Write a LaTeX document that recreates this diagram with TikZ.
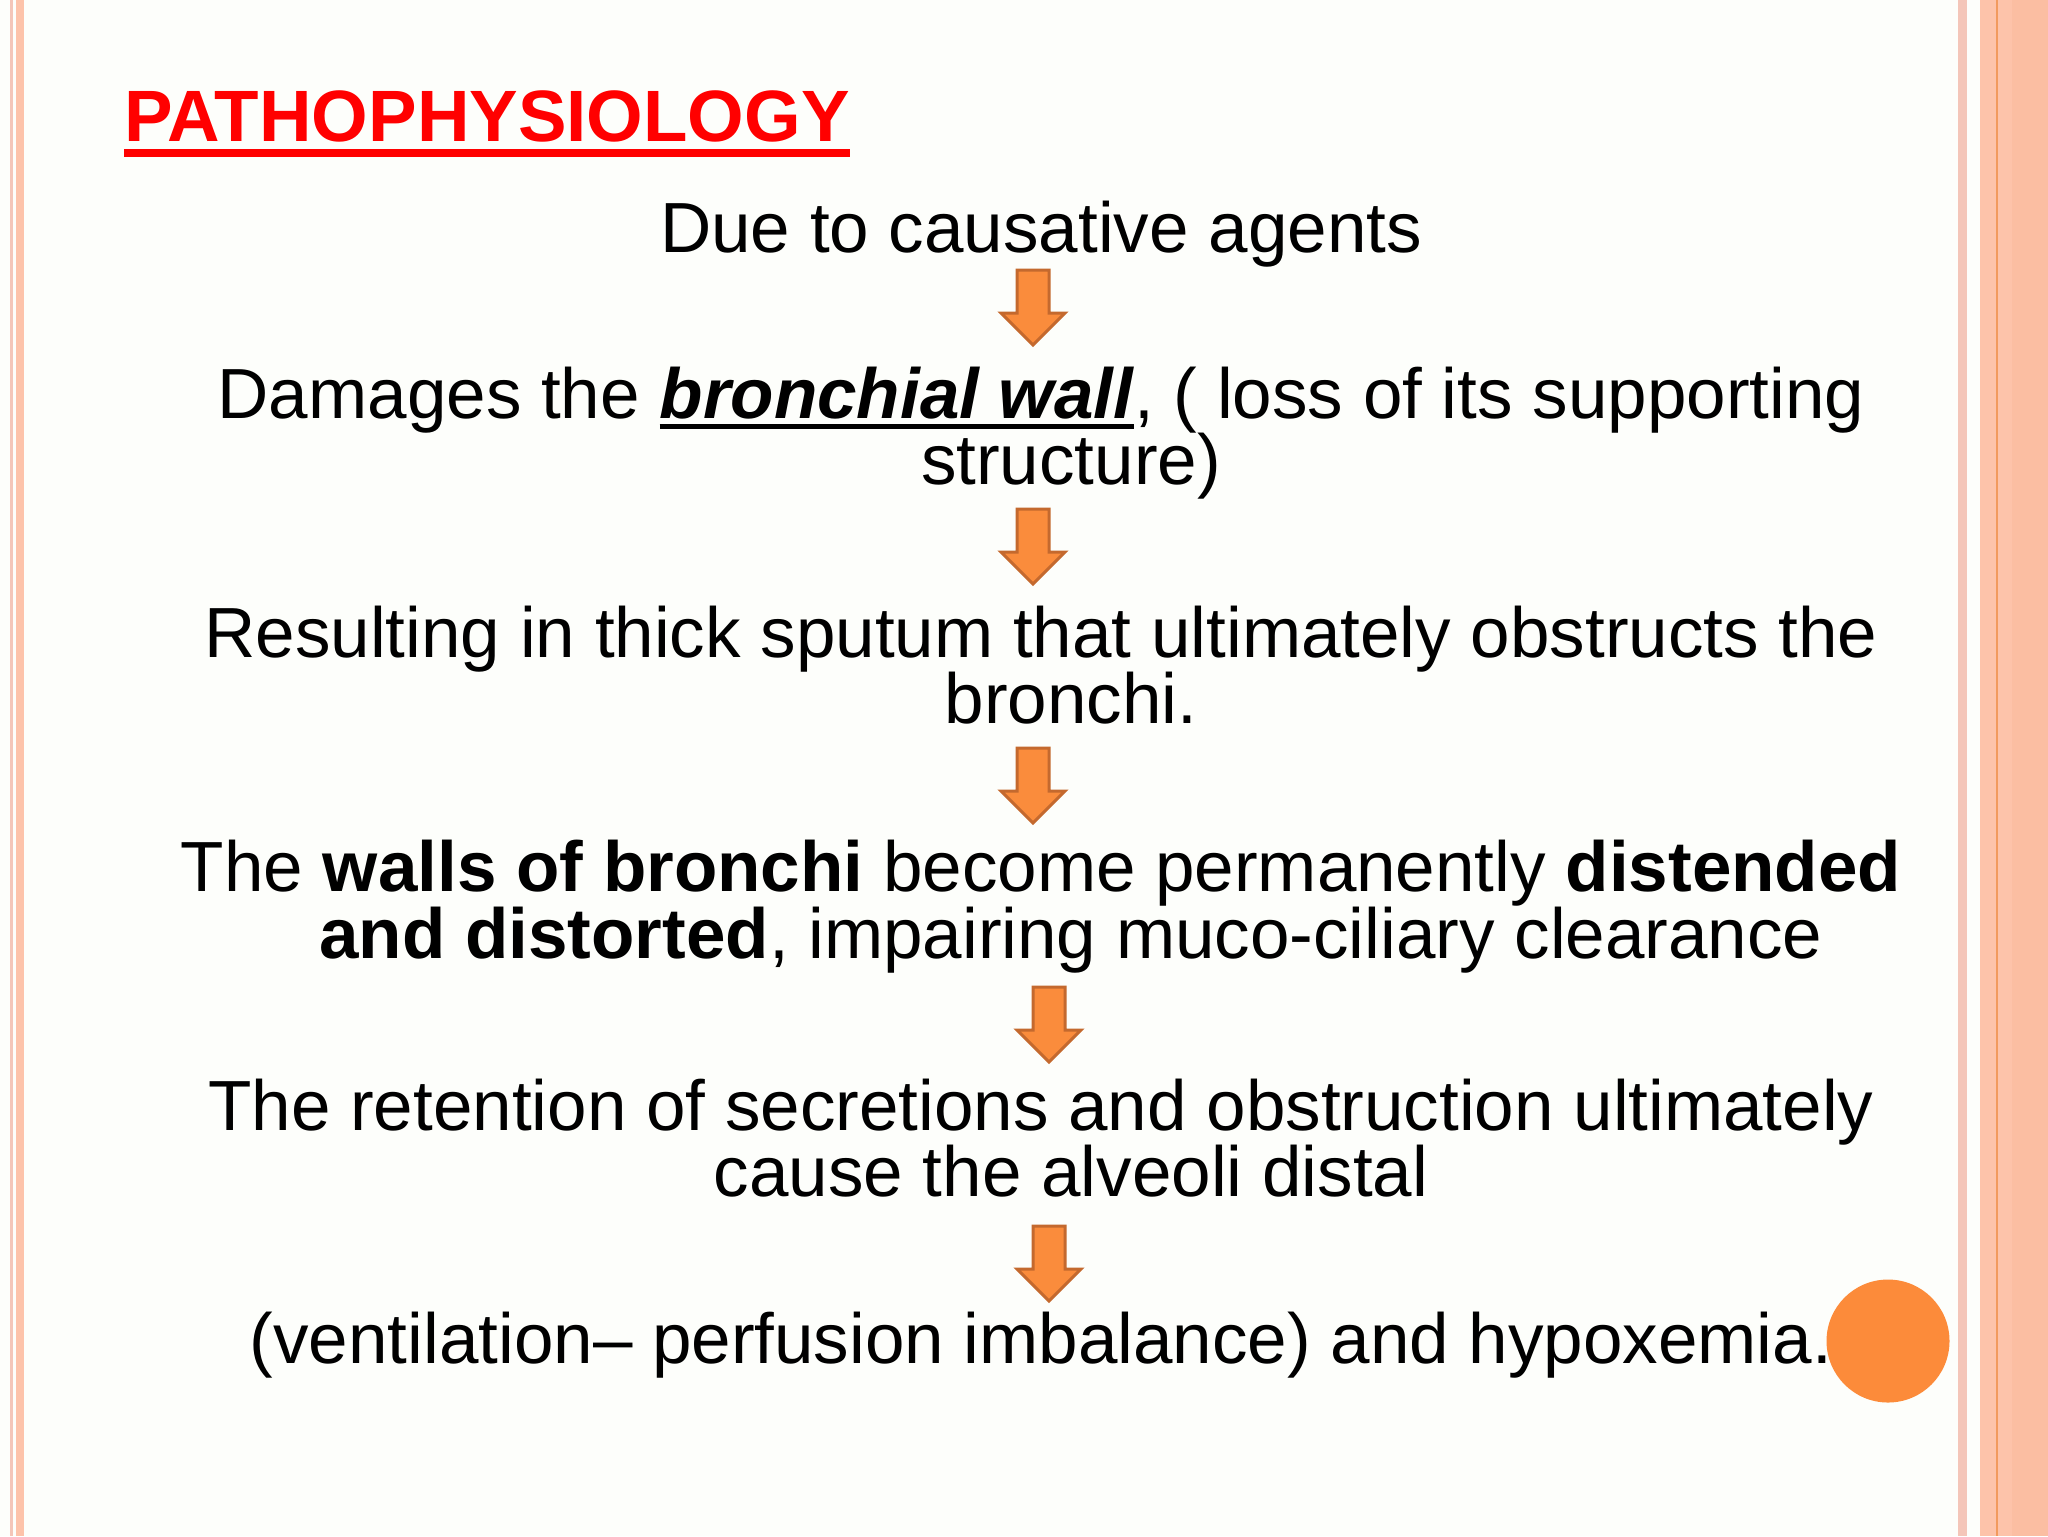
\documentclass[tikz,border=0pt]{standalone}
\usepackage{fontspec}
\setmainfont{Liberation Sans}

\definecolor{bgpaper}{HTML}{FDFEFB}
\definecolor{stripepink}{HTML}{F4C6B9}
\definecolor{stripesalmon}{HTML}{FDC3AA}
\definecolor{stripedark}{HTML}{FBBEA2}
\definecolor{stripeline}{HTML}{F29A5E}
\definecolor{arrowfill}{HTML}{FA8C3C}
\definecolor{arrowedge}{HTML}{C4692E}
\definecolor{dotorange}{HTML}{FC8B3A}

% thick underline for the key term
\newsavebox\ulbox
\newcommand\thickul[1]{\sbox\ulbox{#1}\rlap{\rule[-1.1mm]{\wd\ulbox}{0.5mm}}\usebox\ulbox}

\tikzset{
	line/.style={anchor=base, inner sep=0pt, font=\fontsize{20.2}{24}\selectfont},
	title/.style={anchor=base west, inner sep=0pt, text=red, font=\fontsize{20.7}{24}\selectfont\bfseries},
	downarrow/.pic={
		\filldraw[fill=arrowfill, draw=arrowedge, line width=0.3mm, line join=miter]
			(-16,0) -- (16,0) -- (16,43) -- (32,43) -- (0,75) -- (-32,43) -- (-16,43) -- cycle;
	}
}

\begin{document}
\begin{tikzpicture}[x=0.1mm, y=-0.1mm]
	\fill[bgpaper] (0,0) rectangle (2048,1536);
	\useasboundingbox (0,0) rectangle (2048,1536);

	% side stripes
	\fill[stripepink] (10,0) rectangle (13,1536);
	\fill[stripesalmon] (16,0) rectangle (24,1536);
	\fill[stripepink] (1958,0) rectangle (1967,1536);
	\fill[stripesalmon] (1980,0) rectangle (2012,1536);
	\fill[stripeline] (1996,0) rectangle (1998,1536);
	\fill[stripedark] (2012,0) rectangle (2048,1536);

	% heading
	\node[title] (t) at (124,141) {PATHOPHYSIOLOGY};
	\fill[red] ([yshift=-0.8mm]t.base west) rectangle ([yshift=-1.6mm]t.base east);

	% chain of steps
	\node[line] (l1) at (1041,252) {Due to causative agents};
	\node[line] (l2a) at (1041,418) {Damages the \thickul{\textbf{\textit{bronchial wall}}}, ( loss of its supporting};
	\node[line] (l2b) at (1071,484) {structure)};
	\node[line] (l3a) at (1041,657) {Resulting in thick sputum that ultimately obstructs the};
	\node[line] (l3b) at (1071,723) {bronchi.};
	\node[line] (l4a) at (1041,891) {The \textbf{walls of bronchi} become permanently \textbf{distended}};
	\node[line] (l4b) at (1071,958) {\textbf{and distorted}, impairing muco-ciliary clearance};
	\node[line] (l5a) at (1041,1130) {The retention of secretions and obstruction ultimately};
	\node[line] (l5b) at (1071,1196) {cause the alveoli distal};
	\node[line] (l6) at (1041,1363) {(ventilation– perfusion imbalance) and hypoxemia.};

	\pic at (1033,270) {downarrow};
	\pic at (1033,509) {downarrow};
	\pic at (1033,748) {downarrow};
	\pic at (1049,987) {downarrow};
	\pic at (1049,1226) {downarrow};

	\fill[dotorange] (1888,1341) circle (61.5);
\end{tikzpicture}
\end{document}
